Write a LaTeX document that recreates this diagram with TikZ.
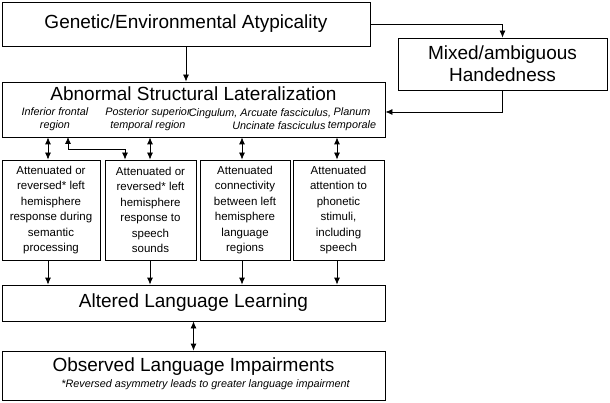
\documentclass[tikz,border=0pt]{standalone}
\usepackage{fontspec}
\setmainfont{Liberation Sans}
\usetikzlibrary{arrows.meta,positioning}
\begin{document}
\begin{tikzpicture}[x=1pt,y=-1pt,
	box/.style  = {draw, thick, rectangle, inner sep=0pt},
	big/.style  = {font=\fontsize{19}{22}\selectfont},
	small/.style = {box, align=center, font=\fontsize{11.5}{15.5}\selectfont},
	lab/.style  = {font=\itshape\fontsize{10.8}{12.5}\selectfont, align=center, inner sep=0pt},
	>={Latex[length=7pt,width=6pt]}]
	\useasboundingbox (0,0) rectangle (610,403);

	% main boxes
	\node[box, big, minimum width=368pt, minimum height=44pt] (gen) at (186,24) {Genetic/Environmental Atypicality};
	\node[box, big, minimum width=209pt, minimum height=52pt, align=center] (mix) at (502.5,64) {Mixed/ambiguous\\Handedness};
	\node[box, minimum width=383pt, minimum height=55pt] (abn) at (193.5,109.5) {};
	\node[big, anchor=north] (abnt) at (abn.north) [yshift=-2pt] {Abnormal Structural Lateralization};

	% region labels
	\node[lab] (r1) at (55,119) {Inferior frontal\\region};
	\node[lab] (r2) at (148,119) {Posterior superior\\temporal region};
	\node[lab] (r3) at (260,119) {Cingulum, Arcuate fasciculus,\\\hspace*{3.5em}Uncinate fasciculus};
	\node[lab] (r4) at (352,119) {Planum\\temporale};

	% the four effects
	\begin{scope}[every node/.style={small, minimum height=100pt}]
	\node[minimum width=98pt] (e1) at (51,210) {Attenuated or\\reversed* left\\hemisphere\\response during\\semantic\\processing};
	\node[minimum width=91pt] (e2) at (150.5,210) {Attenuated or\\reversed* left\\hemisphere\\response to\\speech\\sounds};
	\node[minimum width=90pt] (e3) at (245,210) {Attenuated\\connectivity\\between left\\hemisphere\\language\\regions};
	\node[minimum width=91pt] (e4) at (338.5,210) {Attenuated\\attention to\\phonetic\\stimuli,\\including\\speech};
	\end{scope}

	\node[box, big, minimum width=383pt, minimum height=36pt] (alt) at (193.5,303) {Altered Language Learning};
	\node[box, minimum width=383pt, minimum height=49pt] (obs) at (193.5,375.5) {};
	\node[big, anchor=north] (obst) at (obs.north) [yshift=-4pt] {Observed Language Impairments};
	\node[lab, anchor=north] (note) at (obst.south) [xshift=12pt] {*Reversed asymmetry leads to greater language impairment};

	% connectors
	\draw[->, thick] (gen.south) -- (gen.south |- abn.north);
	\draw[->, thick] (gen.east) -| (mix.north);
	\draw[->, thick] (mix.south) |- (abn.east |- 0,112);
	\foreach \x/\e in {48/e1,150/e2,242/e3,337/e4}{
		\draw[<->, thick] (abn.south -| \x,0) -- (\e.north -| \x,0);
		\draw[->, thick] (\e.south -| \x,0) -- (alt.north -| \x,0);
	}
	\draw[<->, thick] (68,137) |- (125,149) -- (e2.north -| 125,0);
	\draw[<->, thick] (alt) -- (obs);
\end{tikzpicture}
\end{document}
